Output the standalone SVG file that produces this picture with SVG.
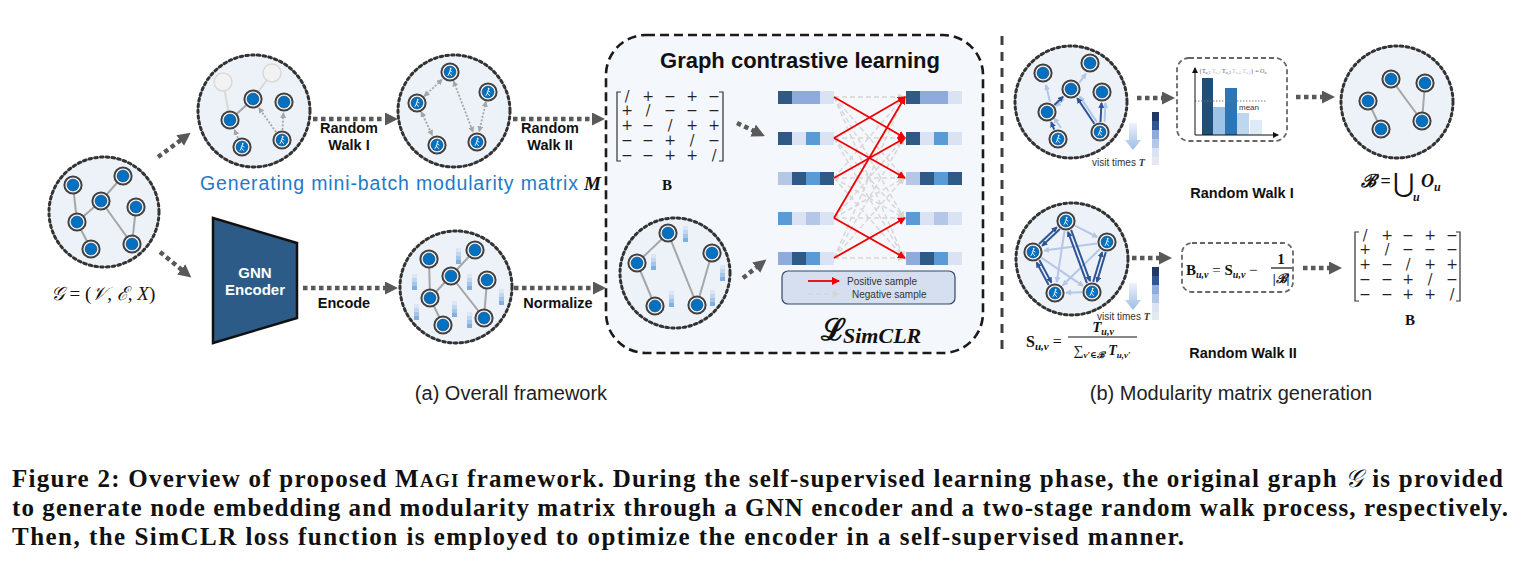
<svg xmlns="http://www.w3.org/2000/svg" xmlns:xlink="http://www.w3.org/1999/xlink" width="1536" height="569" viewBox="0 0 1536 569">
<style>
.bg{fill:#fff}
.gc{fill:#edf2f9;stroke:#333;stroke-width:3;stroke-dasharray:2.6 3.2;stroke-linecap:round}
.edge{stroke:#a6a6a6;stroke-width:2;fill:none}
.fedge{stroke:#d9d9d9;stroke-width:2;fill:none}
.conn{stroke:#595959;stroke-width:4.5;stroke-dasharray:4.5 3.5;fill:none}
.walk{stroke:#a6a6a6;stroke-width:1.8;stroke-dasharray:2 1.6;fill:none}
.dk{stroke:#2f5597;stroke-width:2;fill:none}
.lt{stroke:#b4c7e7;stroke-width:2;fill:none}
.pos{stroke:#f00000;stroke-width:1.8;fill:none}
.neg{stroke:#d6d6d6;stroke-width:1.4;stroke-dasharray:5 3;fill:none}
.lbl{font-family:"Liberation Sans",Arial,sans-serif;font-weight:bold;font-size:14.5px;fill:#111;text-anchor:middle}
.mx{font-family:"DejaVu Serif","Liberation Serif",serif;font-size:14px;fill:#222;text-anchor:middle}
.math{font-family:"Liberation Serif","DejaVu Serif",serif;fill:#111}
.sub{font-family:"Liberation Sans",Arial,sans-serif;font-size:20px;fill:#222;text-anchor:middle}
.cap{font-family:"Liberation Serif","DejaVu Serif",serif;font-weight:bold;font-size:25px;fill:#111}
.D{fill:#2f5a86}.M{fill:#8faadc}.B{fill:#5b9bd5}.L{fill:#dae3f3}.S{fill:#b4c7e7}
</style>
<defs>
<g id="node"><circle r="8.6" fill="#fff" stroke="#404040" stroke-width="2"/><circle r="6" fill="#0070c0" stroke="#1f3f66" stroke-width="0.6"/></g>
<g id="walker" stroke="#fff" stroke-width="0.9" fill="none" stroke-linecap="round"><circle cx="0.7" cy="-3.3" r="0.9" fill="#fff" stroke="none"/><path d="M0.3,-2.1 L-0.6,1 L-2,3.5 M-0.6,1 L1.5,3.5 M0.1,-1.3 L2,0"/></g>
<g id="wnode"><use href="#node"/><use href="#walker"/></g>
<g id="fnode"><circle r="9" fill="#f2f2f2" stroke="#d9d9d9" stroke-width="1.5"/></g>
<g id="vec"><rect x="0" y="0" width="5" height="4" fill="#edf2fa"/><rect x="0" y="4" width="5" height="4" fill="#dbe6f5"/><rect x="0" y="8" width="5" height="4" fill="#c2d6ef"/><rect x="0" y="12" width="5" height="4" fill="#a4c4e8"/><rect x="0" y="16" width="5" height="4" fill="#7fb0e0"/></g>
<g id="vbar"><rect x="0" y="0" width="7" height="9" fill="#1f3864"/><rect x="0" y="9" width="7" height="9" fill="#2f5597"/><rect x="0" y="18" width="7" height="9" fill="#8faadc"/><rect x="0" y="27" width="7" height="9" fill="#b4c7e7"/><rect x="0" y="36" width="7" height="9" fill="#dae3f3"/><rect x="0" y="45" width="7" height="8" fill="#e4e8ef"/></g>
<linearGradient id="dg" x1="0" y1="0" x2="0" y2="1"><stop offset="0" stop-color="#eef3fa"/><stop offset="1" stop-color="#9dbde6"/></linearGradient>
<g id="darr"><path d="M-4,0 H4 V17 H8 L0,27 L-8,17 H-4 Z" fill="url(#dg)"/></g>
<marker id="ah" markerUnits="userSpaceOnUse" markerWidth="14" markerHeight="14" refX="1" refY="6.5" orient="auto"><path d="M0,0 L13,6.5 L0,13 Z" fill="#595959"/></marker>
<marker id="ar" markerUnits="userSpaceOnUse" markerWidth="9" markerHeight="8" refX="7" refY="4" orient="auto"><path d="M0,0 L8,4 L0,8 Z" fill="#f00000"/></marker>
<marker id="an" markerUnits="userSpaceOnUse" markerWidth="8" markerHeight="8" refX="6" refY="3.5" orient="auto"><path d="M0,0 L7,3.5 L0,7 Z" fill="#d6d6d6"/></marker>
<marker id="aw" markerUnits="userSpaceOnUse" markerWidth="7" markerHeight="7" refX="5" refY="3" orient="auto-start-reverse"><path d="M0,0 L6,3 L0,6 Z" fill="#a6a6a6"/></marker>
<marker id="ad" markerUnits="userSpaceOnUse" markerWidth="7" markerHeight="7" refX="5" refY="3" orient="auto"><path d="M0,0 L6,3 L0,6 Z" fill="#2f5597"/></marker>
<marker id="al" markerUnits="userSpaceOnUse" markerWidth="7" markerHeight="7" refX="5" refY="3" orient="auto"><path d="M0,0 L6,3 L0,6 Z" fill="#b4c7e7"/></marker>
<marker id="ax" markerUnits="userSpaceOnUse" markerWidth="7" markerHeight="7" refX="5" refY="3" orient="auto"><path d="M0,0 L6,3 L0,6 Z" fill="#111"/></marker>
</defs>
<rect class="bg" x="0" y="0" width="1536" height="569"/>

<!-- Graph contrastive learning box -->
<g id="gcl-box">
<rect x="606" y="35" width="377" height="318" rx="40" fill="#f4f7fb" stroke="#1a1a1a" stroke-width="2.6" stroke-dasharray="9 5"/>
<text x="800" y="68" class="lbl" style="font-size:22px">Graph contrastive learning</text>
</g>

<!-- separator -->
<line x1="1002" y1="36" x2="1002" y2="356" stroke="#404040" stroke-width="3" stroke-dasharray="9 7"/>

<!-- original graph -->
<g id="graph-G">
<circle class="gc" cx="104" cy="212" r="55"/>
<path class="edge" d="M73,185 L77,222 L101,201 L123,176 M101,201 L132,244 L136,207 M77,222 L91,249"/>
<use href="#node" x="73" y="185"/><use href="#node" x="123" y="176"/><use href="#node" x="101" y="201"/><use href="#node" x="136" y="207"/><use href="#node" x="77" y="222"/><use href="#node" x="91" y="249"/><use href="#node" x="132" y="244"/>
<text x="103" y="300" class="math" font-size="19" text-anchor="middle"><tspan font-style="italic">𝒢</tspan> = (<tspan font-style="italic">𝒱</tspan>, <tspan font-style="italic">ℰ</tspan>, <tspan font-style="italic">X</tspan>)</text>
</g>

<!-- random walk I circle -->
<g id="rw1-circle">
<circle class="gc" cx="254" cy="111" r="56"/>
<path class="fedge" d="M223,82 L230,120 M272,73 L253,99"/>
<path class="edge" d="M230,120 L253,99"/>
<use href="#fnode" x="223" y="82"/><use href="#fnode" x="272" y="73"/>
<path class="walk" marker-end="url(#aw)" d="M238,138 L234.5,130"/>
<path class="walk" marker-end="url(#aw)" d="M276,132 L259,108"/>
<path class="walk" marker-end="url(#aw)" d="M282.5,130 L283.4,113"/>
<use href="#node" x="253" y="99"/><use href="#node" x="284" y="102"/><use href="#node" x="230" y="120"/><use href="#wnode" x="242" y="147"/><use href="#wnode" x="282" y="140"/>
</g>

<!-- random walk II circle -->
<g id="rw2-circle">
<circle class="gc" cx="454" cy="111" r="56"/>
<path class="walk" marker-start="url(#aw)" marker-end="url(#aw)" d="M424.3,96.1 L442,79.6"/>
<path class="walk" marker-start="url(#aw)" marker-end="url(#aw)" d="M421.3,112 L432.3,135.1"/>
<path class="walk" marker-start="url(#aw)" marker-end="url(#aw)" d="M453.6,81.3 L473,131.8"/>
<path class="walk" marker-start="url(#aw)" marker-end="url(#aw)" d="M485.9,101.8 L479.3,131.2"/>
<use href="#wnode" x="450" y="72"/><use href="#wnode" x="488" y="92"/><use href="#wnode" x="417" y="103"/><use href="#wnode" x="437" y="145"/><use href="#wnode" x="477" y="142"/>
</g>

<text x="349" y="133" class="lbl">Random</text><text x="349" y="150" class="lbl">Walk I</text>
<text x="550" y="133" class="lbl">Random</text><text x="550" y="150" class="lbl">Walk II</text>
<text x="200" y="190" font-family="Liberation Sans,Arial,sans-serif" font-size="19.5" fill="#1f7ac8" textLength="378" lengthAdjust="spacing">Generating mini-batch modularity matrix</text>
<text x="584" y="190" class="math" font-size="19" font-weight="bold" font-style="italic" fill="#1f7ac8">M</text>

<!-- GNN encoder -->
<g id="gnn-encoder">
<polygon points="213,218 297,243 297,318 213,343" fill="#2d5b87" stroke="#111" stroke-width="2.5"/>
<text x="255" y="278" class="lbl" style="fill:#fff;font-size:15px">GNN</text>
<text x="255" y="295" class="lbl" style="fill:#fff;font-size:15px">Encoder</text>
</g>
<text x="344" y="308" class="lbl">Encode</text>
<text x="558" y="308" class="lbl">Normalize</text>

<!-- encoded graph circle -->
<g id="encoded-circle">
<circle class="gc" cx="456" cy="287" r="56"/>
<path class="edge" d="M429,259 L430,298 L451,276 L475,250 M451,276 L484,318 L487,280 M430,298 L443,325"/>
<use href="#vec" x="456" y="244"/><use href="#vec" x="412" y="270"/><use href="#vec" x="467" y="270"/><use href="#vec" x="499" y="285"/><use href="#vec" x="414" y="300"/><use href="#vec" x="452" y="297"/><use href="#vec" x="467" y="308"/>
<use href="#node" x="429" y="259"/><use href="#node" x="475" y="250"/><use href="#node" x="451" y="276"/><use href="#node" x="487" y="280"/><use href="#node" x="430" y="298"/><use href="#node" x="443" y="325"/><use href="#node" x="484" y="318"/>
</g>

<!-- modularity matrix B (left) -->
<g id="matrix-B-left">
<path d="M621,92 H617 V161 H621 M719,92 H723 V161 H719" stroke="#333" stroke-width="1.2" fill="none"/>
<text class="mx" y="101"><tspan x="627">/</tspan><tspan x="648">+</tspan><tspan x="670">−</tspan><tspan x="692">+</tspan><tspan x="714">−</tspan></text>
<text class="mx" y="115"><tspan x="627">+</tspan><tspan x="648">/</tspan><tspan x="670">−</tspan><tspan x="692">−</tspan><tspan x="714">−</tspan></text>
<text class="mx" y="130"><tspan x="627">+</tspan><tspan x="648">−</tspan><tspan x="670">/</tspan><tspan x="692">+</tspan><tspan x="714">+</tspan></text>
<text class="mx" y="145"><tspan x="627">−</tspan><tspan x="648">−</tspan><tspan x="670">+</tspan><tspan x="692">/</tspan><tspan x="714">−</tspan></text>
<text class="mx" y="160"><tspan x="627">−</tspan><tspan x="648">−</tspan><tspan x="670">+</tspan><tspan x="692">+</tspan><tspan x="714">/</tspan></text>
<text x="667" y="190" class="math" font-size="15" font-weight="bold" text-anchor="middle">B</text>
</g>

<!-- normalized graph circle -->
<g id="normalized-circle">
<circle class="gc" cx="675" cy="273" r="55"/>
<path class="edge" d="M637,263 L668,233 L697,305 M637,263 L655,306 M712,253 L697,305"/>
<use href="#vec" x="683" y="222"/><use href="#vec" x="651" y="250"/><use href="#vec" x="720" y="261"/><use href="#vec" x="669" y="287"/><use href="#vec" x="710" y="286"/>
<use href="#node" x="668" y="233"/><use href="#node" x="637" y="263"/><use href="#node" x="712" y="253"/><use href="#node" x="655" y="306"/><use href="#node" x="697" y="305"/>
</g>

<!-- embeddings -->
<g id="embeddings-left">
<rect class="D" x="778" y="91" width="14" height="13"/><rect class="M" x="792" y="91" width="14" height="13"/><rect class="M" x="806" y="91" width="14" height="13"/><rect class="L" x="820" y="91" width="14" height="13"/>
<rect class="D" x="778" y="132" width="14" height="13"/><rect class="L" x="792" y="132" width="14" height="13"/><rect class="B" x="806" y="132" width="14" height="13"/><rect class="L" x="820" y="132" width="14" height="13"/>
<rect class="S" x="778" y="172" width="14" height="13"/><rect class="D" x="792" y="172" width="14" height="13"/><rect class="B" x="806" y="172" width="14" height="13"/><rect class="D" x="820" y="172" width="14" height="13"/>
<rect class="B" x="778" y="212" width="14" height="13"/><rect class="L" x="792" y="212" width="14" height="13"/><rect class="S" x="806" y="212" width="14" height="13"/><rect class="L" x="820" y="212" width="14" height="13"/>
<rect class="M" x="778" y="252" width="14" height="13"/><rect class="D" x="792" y="252" width="14" height="13"/><rect class="B" x="806" y="252" width="14" height="13"/><rect class="L" x="820" y="252" width="14" height="13"/>
</g>
<g id="embeddings-right">
<rect class="D" x="906" y="91" width="14" height="13"/><rect class="M" x="920" y="91" width="14" height="13"/><rect class="M" x="934" y="91" width="14" height="13"/><rect class="L" x="948" y="91" width="14" height="13"/>
<rect class="D" x="906" y="132" width="14" height="13"/><rect class="L" x="920" y="132" width="14" height="13"/><rect class="B" x="934" y="132" width="14" height="13"/><rect class="L" x="948" y="132" width="14" height="13"/>
<rect class="S" x="906" y="172" width="14" height="13"/><rect class="D" x="920" y="172" width="14" height="13"/><rect class="B" x="934" y="172" width="14" height="13"/><rect class="D" x="948" y="172" width="14" height="13"/>
<rect class="B" x="906" y="212" width="14" height="13"/><rect class="L" x="920" y="212" width="14" height="13"/><rect class="S" x="934" y="212" width="14" height="13"/><rect class="L" x="948" y="212" width="14" height="13"/>
<rect class="M" x="906" y="252" width="14" height="13"/><rect class="D" x="920" y="252" width="14" height="13"/><rect class="B" x="934" y="252" width="14" height="13"/><rect class="L" x="948" y="252" width="14" height="13"/>
</g>

<!-- legend -->
<g id="legend">
<rect x="782" y="271" width="173" height="33" rx="6" fill="#d6dff0" stroke="#2f4a6b" stroke-width="1.2"/>
<path class="pos" marker-end="url(#ar)" d="M808,281 H839"/>
<path class="neg" marker-end="url(#an)" d="M808,294 H839"/>
<text x="847" y="285" font-family="Liberation Sans,Arial,sans-serif" font-size="10" fill="#333">Positive sample</text>
<text x="852" y="298" font-family="Liberation Sans,Arial,sans-serif" font-size="10" fill="#333">Negative sample</text>
</g>
<text x="821" y="340" class="math" font-size="30" font-weight="bold">ℒ</text>
<text x="843" y="343" class="math" font-size="22" font-weight="bold" font-style="italic">SimCLR</text>

<!-- Right panel: random walk I -->
<g id="rw1-right-circle">
<circle class="gc" cx="1071" cy="102" r="56"/>
<path class="lt" marker-end="url(#al)" d="M1050,102 L1046,85"/>
<path class="lt" marker-end="url(#al)" d="M1079.3,82.7 L1085.9,73.7"/>
<path class="lt" marker-end="url(#al)" d="M1064,99 L1056,106"/>
<path class="lt" marker-end="url(#al)" d="M1096.9,122 L1079.7,96.4"/>
<path class="lt" marker-end="url(#al)" d="M1104.5,122 L1105.5,103"/>
<path class="lt" marker-end="url(#al)" d="M1061,128 L1054,118"/>
<path class="dk" marker-end="url(#ad)" d="M1054.2,129.7 L1051.2,122.2"/>
<path class="dk" marker-end="url(#ad)" d="M1054.3,105 L1063,96.7"/>
<path class="dk" marker-end="url(#ad)" d="M1094.4,123.7 L1077.2,98.1"/>
<path class="dk" marker-end="url(#ad)" d="M1100.5,122 L1101.5,103"/>
<use href="#node" x="1043" y="73"/><use href="#node" x="1090" y="63"/><use href="#node" x="1071" y="89"/><use href="#node" x="1102" y="92"/><use href="#node" x="1047" y="112"/><use href="#wnode" x="1058" y="139"/><use href="#wnode" x="1100" y="132"/>
</g>
<use href="#darr" x="1133" y="123"/>
<use href="#vbar" x="1152" y="112"/>
<text x="1092" y="166" font-family="Liberation Sans,Arial,sans-serif" font-size="10" fill="#333">visit times <tspan font-family="Liberation Serif,serif" font-style="italic" font-weight="bold">T</tspan></text>

<!-- histogram box -->
<g id="histogram">
<rect x="1177" y="58" width="110" height="83" rx="12" fill="#fff" stroke="#666" stroke-width="1.8" stroke-dasharray="5 3"/>
<rect x="1202" y="78" width="11" height="57" fill="#1f4e79"/>
<rect x="1213" y="107" width="12" height="28" fill="#9dc3e6"/>
<rect x="1225" y="88" width="12" height="47" fill="#2e75b6"/>
<rect x="1237" y="113" width="12" height="22" fill="#bdd7ee"/>
<rect x="1250" y="120" width="12" height="15" fill="#deebf7"/>
<line x1="1195" y1="101" x2="1267" y2="101" stroke="#777" stroke-width="0.9" stroke-dasharray="1.5 1.5"/>
<text x="1239" y="110" font-family="Liberation Sans,Arial,sans-serif" font-size="8" fill="#333">mean</text>
<path d="M1195,135 V68" stroke="#111" stroke-width="1" marker-end="url(#ax)"/>
<path d="M1195,135 H1278" stroke="#111" stroke-width="1" marker-end="url(#ax)"/>
<text x="1199" y="73" font-family="Liberation Serif,serif" font-size="6" fill="#555">{T<tspan font-size="4" dy="1">u,1</tspan><tspan dy="-1" fill="#bbb"> T</tspan><tspan font-size="4" dy="1" fill="#bbb">u,2</tspan><tspan dy="-1"> T</tspan><tspan font-size="4" dy="1">u,3</tspan><tspan dy="-1" fill="#bbb"> T</tspan><tspan font-size="4" dy="1" fill="#bbb">u,4</tspan><tspan dy="-1" fill="#bbb"> T</tspan><tspan font-size="4" dy="1" fill="#bbb">u,5</tspan><tspan dy="-1">} = </tspan><tspan font-style="italic">O</tspan><tspan font-size="4" dy="1">u</tspan></text>
</g>

<!-- result circle -->
<g id="batch-circle">
<circle class="gc" cx="1397" cy="102" r="56"/>
<path class="edge" d="M1391,79 L1422,121 L1425,83 M1368,101 L1381,129"/>
<use href="#node" x="1391" y="79"/><use href="#node" x="1425" y="83"/><use href="#node" x="1368" y="101"/><use href="#node" x="1381" y="129"/><use href="#node" x="1422" y="121"/>
</g>
<text x="1361" y="187" class="math" font-size="18" font-weight="bold"><tspan font-style="italic">ℬ</tspan> =</text>
<text x="1393" y="192" class="math" font-size="26">⋃</text>
<text x="1413" y="201" class="math" font-size="12" font-weight="bold" font-style="italic">u</text>
<text x="1421" y="187" class="math" font-size="18" font-weight="bold" font-style="italic">O<tspan font-size="12" dy="4">u</tspan></text>
<text x="1242" y="198" class="lbl">Random Walk I</text>

<!-- Right panel: random walk II -->
<g id="rw2-right-circle">
<circle class="gc" cx="1072" cy="259" r="56"/>
<path class="lt" marker-end="url(#al)" d="M1075,225.6 L1097.2,237"/>
<path class="lt" marker-end="url(#al)" d="M1097,243.4 L1044,250.5"/>
<path class="lt" marker-end="url(#al)" d="M1041.3,257.6 L1082.9,285.8"/>
<path class="lt" marker-end="url(#al)" d="M1082,292.3 L1066,292.7"/>
<path class="lt" marker-end="url(#al)" d="M1099.9,249 L1062.8,285.3"/>
<path class="lt" marker-end="url(#al)" d="M1064.5,231 L1056.7,282.1"/>
<path class="dk" marker-end="url(#ad)" d="M1059.9,229.1 L1042.2,245.8"/>
<path class="dk" marker-end="url(#ad)" d="M1039.1,243.9 L1056.8,227.2"/>
<path class="dk" marker-end="url(#ad)" d="M1039.3,260 L1051.4,282.5"/>
<path class="dk" marker-end="url(#ad)" d="M1048.7,285 L1036.6,262.5"/>
<path class="dk" marker-end="url(#ad)" d="M1071.1,229.8 L1090,281.1"/>
<path class="dk" marker-end="url(#ad)" d="M1086.9,283.2 L1068,231.9"/>
<path class="dk" marker-end="url(#ad)" d="M1105.8,252.1 L1096.9,281.9"/>
<path class="dk" marker-end="url(#ad)" d="M1093.2,281.9 L1102.1,252.1"/>
<use href="#wnode" x="1066" y="221"/><use href="#wnode" x="1107" y="242"/><use href="#wnode" x="1033" y="252"/><use href="#wnode" x="1055" y="293"/><use href="#wnode" x="1092" y="292"/>
</g>
<use href="#darr" x="1133" y="283"/>
<use href="#vbar" x="1152" y="267"/>
<text x="1097" y="320" font-family="Liberation Sans,Arial,sans-serif" font-size="10" fill="#333">visit times <tspan font-family="Liberation Serif,serif" font-style="italic" font-weight="bold">T</tspan></text>

<!-- S formula -->
<text x="1026" y="347" class="math" font-size="16" font-weight="bold">S<tspan font-size="11" font-style="italic" dy="3">u,v</tspan><tspan dy="-3" font-weight="normal"> =</tspan></text>
<text x="1103" y="332" class="math" font-size="15" font-weight="bold" font-style="italic" text-anchor="middle">T<tspan font-size="10" dy="3">u,v</tspan></text>
<line x1="1068" y1="337" x2="1137" y2="337" stroke="#111" stroke-width="1"/>
<text x="1102" y="355" class="math" font-size="14" text-anchor="middle">∑<tspan font-size="9" font-style="italic" font-weight="bold" dy="3">v′∈ℬ</tspan><tspan dy="-3" font-style="italic" font-weight="bold"> T</tspan><tspan font-size="9" font-style="italic" font-weight="bold" dy="3">u,v′</tspan></text>

<!-- B formula box -->
<g id="b-formula">
<rect x="1182" y="243" width="111" height="49" rx="10" fill="#fff" stroke="#666" stroke-width="1.8" stroke-dasharray="5 3"/>
<text x="1186" y="275" class="math" font-size="15" font-weight="bold">B<tspan font-size="10" font-style="italic" dy="3">u,v</tspan><tspan dy="-3" font-weight="normal"> = </tspan>S<tspan font-size="10" font-style="italic" dy="3">u,v</tspan><tspan dy="-3" font-weight="normal"> −</tspan></text>
<text x="1281" y="264" class="math" font-size="15" font-weight="bold" text-anchor="middle">1</text>
<line x1="1271" y1="268" x2="1292" y2="268" stroke="#111" stroke-width="1.2"/>
<text x="1281" y="283" class="math" font-size="13" font-weight="bold" text-anchor="middle">|<tspan font-style="italic">ℬ</tspan>|</text>
</g>

<!-- matrix B right -->
<g id="matrix-B-right">
<path d="M1359,232 H1355 V301 H1359 M1456,232 H1460 V301 H1456" stroke="#333" stroke-width="1.2" fill="none"/>
<text class="mx" y="240"><tspan x="1365">/</tspan><tspan x="1387">+</tspan><tspan x="1408">−</tspan><tspan x="1430">+</tspan><tspan x="1452">−</tspan></text>
<text class="mx" y="254"><tspan x="1365">+</tspan><tspan x="1387">/</tspan><tspan x="1408">−</tspan><tspan x="1430">−</tspan><tspan x="1452">−</tspan></text>
<text class="mx" y="269"><tspan x="1365">+</tspan><tspan x="1387">−</tspan><tspan x="1408">/</tspan><tspan x="1430">+</tspan><tspan x="1452">+</tspan></text>
<text class="mx" y="284"><tspan x="1365">−</tspan><tspan x="1387">−</tspan><tspan x="1408">+</tspan><tspan x="1430">/</tspan><tspan x="1452">−</tspan></text>
<text class="mx" y="299"><tspan x="1365">−</tspan><tspan x="1387">−</tspan><tspan x="1408">+</tspan><tspan x="1430">+</tspan><tspan x="1452">/</tspan></text>
<text x="1410" y="325" class="math" font-size="15" font-weight="bold" text-anchor="middle">B</text>
</g>
<text x="1243" y="358" class="lbl">Random Walk II</text>

<!-- connectors -->
<g id="connectors">
<path class="conn" marker-end="url(#ah)" d="M158,157 L181,140"/>
<path class="conn" marker-end="url(#ah)" d="M160,252 L182,270"/>
<path class="conn" marker-end="url(#ah)" d="M313,119 H386"/>
<path class="conn" marker-end="url(#ah)" d="M513,119 H593"/>
<path class="conn" marker-end="url(#ah)" d="M303,288 H386"/>
<path class="conn" marker-end="url(#ah)" d="M514,288 H594"/>
<path class="conn" marker-end="url(#ah)" d="M737,123 L754,131"/>
<path class="conn" marker-end="url(#ah)" d="M743,278 L757,267"/>
<path class="conn" marker-end="url(#ah)" d="M1137,98 H1163"/>
<path class="conn" marker-end="url(#ah)" d="M1296,97 H1323"/>
<path class="conn" marker-end="url(#ah)" d="M1132,258 H1160"/>
<path class="conn" marker-end="url(#ah)" d="M1303,268 H1330"/>
<g id="negatives">
<path class="neg" marker-end="url(#an)" d="M834,97 L904,97"/><path class="neg" marker-end="url(#an)" d="M834,97 L904,178"/><path class="neg" marker-end="url(#an)" d="M834,97 L904,218"/><path class="neg" marker-end="url(#an)" d="M834,97 L904,258"/>
<path class="neg" marker-end="url(#an)" d="M834,138 L904,138"/><path class="neg" marker-end="url(#an)" d="M834,138 L904,218"/><path class="neg" marker-end="url(#an)" d="M834,138 L904,258"/>
<path class="neg" marker-end="url(#an)" d="M834,178 L904,97"/><path class="neg" marker-end="url(#an)" d="M834,178 L904,178"/><path class="neg" marker-end="url(#an)" d="M834,178 L904,218"/><path class="neg" marker-end="url(#an)" d="M834,178 L904,258"/>
<path class="neg" marker-end="url(#an)" d="M834,218 L904,138"/><path class="neg" marker-end="url(#an)" d="M834,218 L904,178"/><path class="neg" marker-end="url(#an)" d="M834,218 L904,218"/>
<path class="neg" marker-end="url(#an)" d="M834,258 L904,97"/><path class="neg" marker-end="url(#an)" d="M834,258 L904,138"/><path class="neg" marker-end="url(#an)" d="M834,258 L904,178"/><path class="neg" marker-end="url(#an)" d="M834,258 L904,258"/>
</g>
<g id="positives">
<path class="pos" marker-end="url(#ar)" d="M834,97 L905,138"/>
<path class="pos" marker-end="url(#ar)" d="M834,138 L905,97"/>
<path class="pos" marker-end="url(#ar)" d="M834,138 L905,178"/>
<path class="pos" marker-end="url(#ar)" d="M834,178 L905,138"/>
<path class="pos" marker-end="url(#ar)" d="M834,218 L905,97"/>
<path class="pos" marker-end="url(#ar)" d="M834,218 L905,258"/>
<path class="pos" marker-end="url(#ar)" d="M834,258 L905,218"/>
</g>
</g>

<!-- sub captions -->
<text x="511" y="400" class="sub">(a) Overall framework</text>
<text x="1231" y="400" class="sub">(b) Modularity matrix generation</text>

<!-- figure caption -->
<text x="12" y="487" class="cap" textLength="1491" lengthAdjust="spacing">Figure 2: Overview of proposed M<tspan font-size="19">AGI</tspan> framework. During the self-supervised learning phase, the original graph <tspan font-style="italic" font-weight="normal">𝒢</tspan> is provided</text>
<text x="12" y="516" class="cap" textLength="1496" lengthAdjust="spacing">to generate node embedding and modularity matrix through a GNN encoder and a two-stage random walk process, respectively.</text>
<text x="12" y="545" class="cap" textLength="1172" lengthAdjust="spacing">Then, the SimCLR loss function is employed to optimize the encoder in a self-supervised manner.</text>
</svg>
